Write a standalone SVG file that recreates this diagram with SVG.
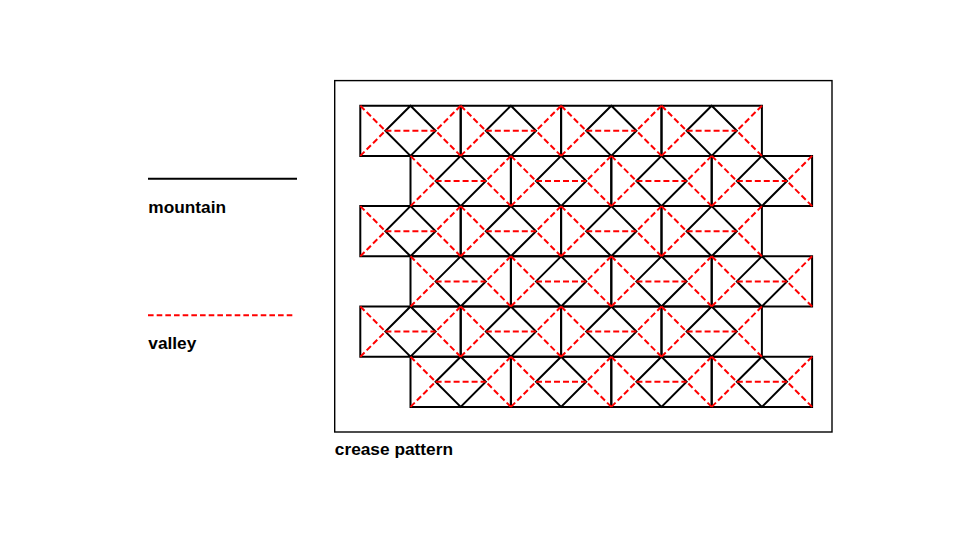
<svg xmlns="http://www.w3.org/2000/svg" width="980" height="539" viewBox="0 0 980 539">
<style>
.m{stroke:#000;stroke-width:2;fill:none;stroke-linejoin:miter}
.v{stroke:#f00;stroke-width:2;fill:none;stroke-dasharray:6 3}
.l{stroke-dasharray:5.6 3.07}
text{font-family:"Liberation Sans",Arial,sans-serif;font-weight:700;font-size:17.3px;fill:#000}
</style>
<defs>
<g id="cm">
<path class="m" d="M0 0H100.4V50.2H0ZM50.2 0L75.3 25.1L50.2 50.2L25.1 25.1Z"/>
</g>
<g id="cv">
<path class="v" d="M0 0L25.1 25.1M0 50.2L25.1 25.1M25.1 25.1H75.3M100.4 0L75.3 25.1M100.4 50.2L75.3 25.1"/>
</g>
<g id="ro"><use href="#cm" x="0"/><use href="#cm" x="100.4"/><use href="#cm" x="200.8"/><use href="#cm" x="301.2"/></g>
<g id="rv"><use href="#cv" x="0"/><use href="#cv" x="100.4"/><use href="#cv" x="200.8"/><use href="#cv" x="301.2"/></g>
</defs>
<rect width="980" height="539" fill="#fff"/>
<g id="legend-mountain">
<line class="m" x1="148" y1="178.8" x2="297" y2="178.8"/>
<text x="148.3" y="213">mountain</text>
</g>
<g id="legend-valley">
<line class="v l" x1="148" y1="315.3" x2="292.4" y2="315.3"/>
<text x="148.3" y="349">valley</text>
</g>
<g id="frame">
<rect x="334.7" y="80.6" width="497.3" height="351.4" fill="none" stroke="#000" stroke-width="1.4"/>
<text x="334.8" y="455">crease pattern</text>
</g>
<g id="mountain-creases">
<use href="#ro" x="360.3" y="105.7"/>
<use href="#ro" x="410.5" y="155.9"/>
<use href="#ro" x="360.3" y="206.1"/>
<use href="#ro" x="410.5" y="256.3"/>
<use href="#ro" x="360.3" y="306.5"/>
<use href="#ro" x="410.5" y="356.7"/>
</g>
<g id="valley-creases">
<use href="#rv" x="360.3" y="105.7"/>
<use href="#rv" x="410.5" y="155.9"/>
<use href="#rv" x="360.3" y="206.1"/>
<use href="#rv" x="410.5" y="256.3"/>
<use href="#rv" x="360.3" y="306.5"/>
<use href="#rv" x="410.5" y="356.7"/>
</g>
</svg>
